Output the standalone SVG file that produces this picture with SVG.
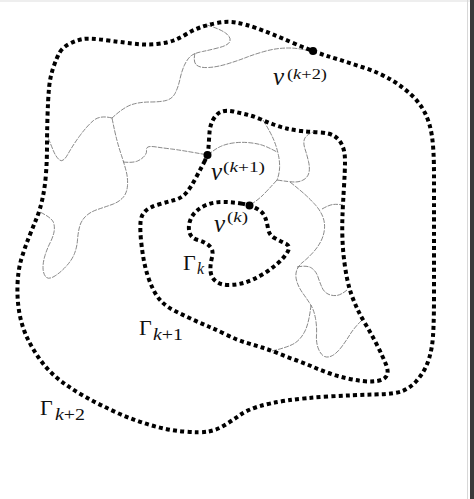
<svg xmlns="http://www.w3.org/2000/svg" width="474" height="499" viewBox="0 0 474 499">
<style>
.curve{fill:none;stroke:#000;stroke-width:4;stroke-dasharray:4 3.2}
.path{fill:none;stroke:#6a6a6a;stroke-width:0.8;stroke-dasharray:5 1.2}
.lbl{font-family:"Liberation Serif","DejaVu Serif",serif;fill:#111}
.it{font-style:italic}
.dot{fill:#000}
</style>
<rect width="474" height="499" fill="#fff"/>
<rect x="0" y="0" width="474" height="2" fill="#eee"/>
<line x1="467.5" y1="0" x2="467.5" y2="499" stroke="#d8d8d8" stroke-width="1"/>
<rect x="470" y="0" width="4" height="499" fill="#3a3a3a"/>

<g id="connectors">
<path class="path" d="M 207,25 Q 220,29 225.5,33 Q 231,37 230,41 Q 229,45 219.5,47.5 Q 210,50 202.5,51.5 Q 195,53 191.5,55.5 Q 188,58 185,64 Q 182,70 180,79 Q 178,88 175,93.5 Q 172,99 166,100.5 Q 160,102 150,102 Q 140,102 132,104.5 Q 124,107 112,118"/>
<path class="path" d="M 112,118 Q 100,115 93.5,120.5 Q 87,126 80,135.5 Q 73,145 68,154 Q 63,163 59.5,160 Q 56,157 53.5,151 Q 51,145 47,135"/>
<path class="path" d="M 112,118 Q 115,133 117,140.5 Q 119,148 121.5,155.5 Q 124,163 126,170.5 Q 128,178 127.5,185.5 Q 127,193 123,197.5 Q 119,202 112,204.5 Q 105,207 97.5,209.5 Q 90,212 85.5,216.5 Q 81,221 79.5,227 Q 78,233 77.5,240 Q 77,247 74.5,253.5 Q 72,260 66,266.5 Q 60,273 54,276.5 Q 48,280 45.5,276.5 Q 43,273 43,267.5 Q 43,262 45,255.5 Q 47,249 50,243 Q 53,237 54,232 Q 55,227 53.5,222.5 Q 52,218 40,212"/>
<path class="path" d="M 123,162 Q 133,163 137.5,161 Q 142,159 144.5,156 Q 147,153 146.5,150.5 Q 146,148 148,147 Q 150,146 156.5,147 Q 163,148 171.5,149 Q 180,150 208,155"/>
<path class="path" d="M 195,53 Q 193,62 196.5,65 Q 200,68 208.5,67.5 Q 217,67 227,64 Q 237,61 246,57.5 Q 255,54 266,51 Q 277,48 288.5,48 Q 300,48 313,52"/>
<path class="path" d="M 208,155 Q 215,149 220.5,146.5 Q 226,144 233,143 Q 240,142 247,142.5 Q 254,143 260,144.5 Q 266,146 277,152"/>
<path class="path" d="M 263,120 Q 271,133 274,140.5 Q 277,148 278.5,155.5 Q 280,163 279.5,169 Q 279,175 277,180"/>
<path class="path" d="M 277,180 Q 268,190 263,195 Q 258,200 250,205"/>
<path class="path" d="M 277,180 Q 290,182 295,182 Q 300,182 304,179.5 Q 308,177 309,172.5 Q 310,168 308.5,161.5 Q 307,155 305,149 Q 303,143 304.5,139 Q 306,135 313,132"/>
<path class="path" d="M 290,182 Q 300,190 305,194.5 Q 310,199 315,204.5 Q 320,210 322.5,216 Q 325,222 324.5,228.5 Q 324,235 321,241 Q 318,247 313,252.5 Q 308,258 303,262 Q 298,266 296.5,271 Q 295,276 297,282 Q 299,288 303,293.5 Q 307,299 310.5,304.5 Q 314,310 315.5,318.5 Q 317,327 316.5,335 Q 316,343 318.5,349 Q 321,355 324.5,356.5 Q 328,358 332.5,355.5 Q 337,353 341.5,347 Q 346,341 350,334.5 Q 354,328 362,320"/>
<path class="path" d="M 322,209 Q 329,205 333,204.5 Q 337,204 343,205"/>
<path class="path" d="M 297,267 Q 307,265 311.5,268 Q 316,271 318,277 Q 320,283 322,287.5 Q 324,292 328,294 Q 332,296 336.5,295.5 Q 341,295 347,290"/>
<path class="path" d="M 311,305 Q 309,323 305,331 Q 301,339 295,343 Q 289,347 272,351"/>
</g>

<g id="gamma-k2">
<path class="curve" d="M 60,52 Q 63,47 70,43.5 Q 77,40 83.5,39 Q 90,38 108.5,40.5 Q 127,43 137,44 Q 147,45 157,44 Q 167,43 173.5,40.5 Q 180,38 186.5,34 Q 193,30 200,27.5 Q 207,25 217,23 Q 227,21 236,22.5 Q 245,24 257.5,28.5 Q 270,33 292,42.5 Q 314,52 330.5,57 Q 347,62 363.5,67.5 Q 380,73 391.5,80 Q 403,87 411.5,95 Q 420,103 425,113 Q 430,123 432,136.5 Q 434,150 434,175 Q 434,200 434,230 Q 434,260 434,296.5 Q 434,333 432,345.5 Q 430,358 426,366.5 Q 422,375 416,381.5 Q 410,388 402.5,391 Q 395,394 374.5,394.5 Q 354,395 329,396.5 Q 304,398 287,400.5 Q 270,403 258.5,406.5 Q 247,410 240,415 Q 233,420 225,425 Q 217,430 208.5,431.5 Q 200,433 183.5,431.5 Q 167,430 150,425 Q 133,420 116.5,412.5 Q 100,405 86.5,397.5 Q 73,390 61.5,381.5 Q 50,373 41.5,361.5 Q 33,350 27.5,338.5 Q 22,327 19.5,313.5 Q 17,300 17.5,285 Q 18,270 21.5,258.5 Q 25,247 29,237 Q 33,227 36.5,218.5 Q 40,210 42.5,198.5 Q 45,187 46,173.5 Q 47,160 47,146.5 Q 47,133 47.5,116.5 Q 48,100 49,88.5 Q 50,77 53.5,67 Q 57,57 60,52 Z"/>
<text class="lbl" x="40" y="415" font-size="22">Γ</text>
<text class="lbl" x="55" y="420" font-size="16" textLength="30" lengthAdjust="spacingAndGlyphs"><tspan class="it">k</tspan>+2</text>
</g>

<g id="gamma-k1">
<path class="curve" d="M 204,162.5 Q 208,155 208.5,147.5 Q 209,140 209.5,132.5 Q 210,125 213.5,119 Q 217,113 222,111.5 Q 227,110 233.5,111.5 Q 240,113 246.5,114.5 Q 253,116 260,119 Q 267,122 273.5,124.5 Q 280,127 286.5,128.5 Q 293,130 301.5,131 Q 310,132 320,132.5 Q 330,133 335,136.5 Q 340,140 342.5,146 Q 345,152 345,161 Q 345,170 344,186.5 Q 343,203 342.5,215 Q 342,227 342.5,240 Q 343,253 345,266.5 Q 347,280 349.5,288.5 Q 352,297 356,306 Q 360,315 366,325 Q 372,335 377.5,346 Q 383,357 386,364.5 Q 389,372 386.5,376 Q 384,380 377,381 Q 370,382 362,381 Q 354,380 345.5,378 Q 337,376 328.5,373 Q 320,370 312,366.5 Q 304,363 295.5,360 Q 287,357 278.5,353.5 Q 270,350 262,347.5 Q 254,345 245.5,342.5 Q 237,340 227,335 Q 217,330 208.5,326.5 Q 200,323 191.5,319 Q 183,315 175,311 Q 167,307 162,302 Q 157,297 153.5,290 Q 150,283 147.5,275 Q 145,267 143.5,258.5 Q 142,250 141,240 Q 140,230 140.5,222.5 Q 141,215 145.5,211 Q 150,207 158.5,204.5 Q 167,202 174.5,200 Q 182,198 186.5,192.5 Q 191,187 195.5,178.5 Q 200,170 204,162.5 Z"/>
<text class="lbl" x="139" y="335" font-size="22">Γ</text>
<text class="lbl" x="153" y="340" font-size="16" textLength="30" lengthAdjust="spacingAndGlyphs"><tspan class="it">k</tspan>+1</text>
</g>

<g id="gamma-k">
<path class="curve" d="M 241,203.5 Q 250,205 256.5,208.5 Q 263,212 265,217 Q 267,222 268,228.5 Q 269,235 274.5,238 Q 280,241 285.5,243.5 Q 291,246 287.5,252 Q 284,258 277,264 Q 270,270 261.5,275 Q 253,280 245,282.5 Q 237,285 228.5,285 Q 220,285 215.5,281 Q 211,277 210.5,271 Q 210,265 212,257.5 Q 214,250 209.5,246 Q 205,242 198,240 Q 191,238 189.5,232.5 Q 188,227 190,221 Q 192,215 196.5,211 Q 201,207 207.5,204.5 Q 214,202 223,202 Q 232,202 241,203.5 Z"/>
<text class="lbl" x="183" y="270" font-size="22">Γ</text>
<text class="lbl it" x="197" y="274" font-size="16">k</text>
</g>

<g id="v-k2">
<circle class="dot" cx="313" cy="51" r="4"/>
<text class="lbl it" x="273" y="85" font-size="25">v</text>
<text class="lbl" x="287" y="78.5" font-size="15" textLength="40" lengthAdjust="spacingAndGlyphs">(<tspan class="it">k</tspan>+2)</text>
</g>

<g id="v-k1">
<circle class="dot" cx="207.5" cy="155" r="4"/>
<text class="lbl it" x="211" y="180" font-size="25">v</text>
<text class="lbl" x="223" y="171.5" font-size="15" textLength="42" lengthAdjust="spacingAndGlyphs">(<tspan class="it">k</tspan>+1)</text>
</g>

<g id="v-k">
<circle class="dot" cx="249.5" cy="205.5" r="4"/>
<text class="lbl it" x="214" y="232" font-size="25">v</text>
<text class="lbl" x="227" y="222" font-size="15" textLength="21" lengthAdjust="spacingAndGlyphs">(<tspan class="it">k</tspan>)</text>
</g>
</svg>
